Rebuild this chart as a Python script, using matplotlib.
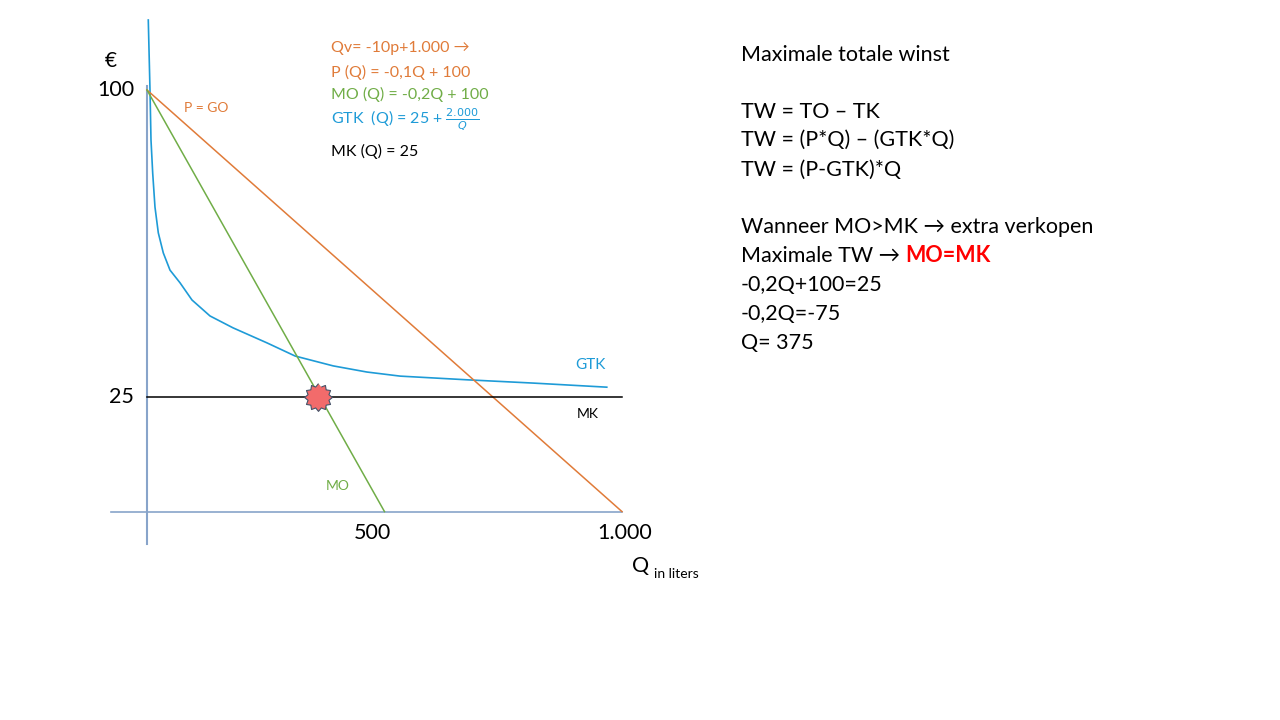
import matplotlib
matplotlib.use("Agg")
import matplotlib.pyplot as plt
import numpy as np

plt.rcParams['font.family'] = ['Lato', 'DejaVu Sans']

# curves (Q in liters, price in euro)
mo_q = [0, 500]
mo_p = [100, -3]
demand_q = [0, 1000]
demand_p = [100, -3]
mk_q = [0, 1000]
mk_p = [25, 25]
gtk_q = [2.7, 6.3, 8.4, 12.0, 16.8, 23.8, 34.3, 48.4, 69.5, 94.7, 132.6, 181,
         253, 312, 392, 463, 533, 674, 813, 968]
gtk_p = [117.1, 100.0, 87.8, 79.7, 71.4, 65.1, 60.2, 56.0, 52.9, 48.7, 44.8, 41.9,
         38.2, 35.0, 32.6, 31.1, 30.1, 29.2, 28.4, 27.4]
optimum_q = [360]
optimum_p = [25]

axis_q = [-76, 1000]
axis_level = -3
yaxis_p = [-11, 101]

tick_q = [500, 1000]
tick_q_labels = ['500', '1.000']
tick_p = [100, 25]
tick_p_labels = ['100', '25']

equations = [
    ('Qv= -10p+1.000 →', '#E07B39'),
    ('P (Q) = -0,1Q + 100', '#E07B39'),
    ('MO (Q) = -0,2Q + 100', '#70AD47'),
    (r'GTK  (Q) = 25 + $\frac{2.000}{Q}$', '#1E9BD7'),
    ('MK (Q) = 25', 'black'),
]
eq_y = [48, 72, 94, 120, 151]

notes = ['Maximale totale winst', 'TW = TO – TK', 'TW = (P*Q) – (GTK*Q)',
         'TW = (P-GTK)*Q', 'Wanneer MO>MK → extra verkopen', 'Maximale TW → ',
         '-0,2Q+100=25', '-0,2Q=-75', 'Q= 375']
notes_y = [55, 112, 140, 170, 227, 256, 285, 314, 343]

ORANGE = '#E07B39'
GREEN = '#70AD47'
BLUE = '#1E9BD7'
AXIS = '#88A4CA'

fig = plt.figure(figsize=(12.8, 7.2), dpi=100)
ax = fig.add_axes([0, 0, 1, 1])
ax.axis('off')

# pixel anchors of the drawing: Q=0 -> 147px, Q=1000 -> 622px, P=100 -> 90px, P=25 -> 397px
px_q = (622 - 147) / 1000
px_p = (397 - 90) / 75
ax.set_xlim(-147 / px_q, (1280 - 147) / px_q)
ax.set_ylim(25 - (720 - 397) / px_p, 25 + 397 / px_p)

# axes
ax.plot(axis_q, [axis_level, axis_level], color=AXIS, lw=1.2)
ax.plot([0, 0], yaxis_p, color=AXIS, lw=1.5)

ax.plot(gtk_q, gtk_p, color=BLUE, lw=1.2, solid_joinstyle='round')
ax.plot(demand_q, demand_p, color=ORANGE, lw=1.1)
ax.plot(mo_q, mo_p, color=GREEN, lw=1.1)
ax.plot(mk_q, mk_p, color='black', lw=1.1)

# 12-point star marker
ang = np.linspace(0, 2 * np.pi, 25)[:-1] + np.pi / 2
rad = np.where(np.arange(24) % 2 == 0, 1.0, 0.78)
star = np.column_stack([rad * np.cos(ang), rad * np.sin(ang)])
ax.plot(optimum_q, optimum_p, marker=star, ms=20, color='#F26B6B',
        markeredgecolor='#44546A', markeredgewidth=0.8, zorder=5)

for q, lab in zip(tick_q, tick_q_labels):
    shift = -9 if q == 500 else 2
    ax.annotate(lab, (q, -8.2), xytext=(shift, 0), textcoords='offset points',
                fontsize=15.5, ha='center', va='center')
for p, lab in zip(tick_p, tick_p_labels):
    ax.text(-27, p, lab, fontsize=15.5, ha='right', va='center')
ax.text(-76, 107.0, '€', fontsize=15, ha='center', va='center')
ax.text(1040, -16.3, 'Q', fontsize=15.5, ha='center', va='center')
ax.text(1067, -18.2, 'in liters', fontsize=10, ha='left', va='center')

ax.text(124, 95.6, 'P = GO', color=ORANGE, fontsize=10, ha='center', va='center')
ax.text(933, 32.8, 'GTK', color=BLUE, fontsize=11, ha='center', va='center')
ax.text(928, 20.8, 'MK', color='black', fontsize=10, ha='center', va='center')
ax.text(402, 3.3, 'MO', color=GREEN, fontsize=10, ha='center', va='center')

for (txt, col), y in zip(equations, eq_y):
    fig.text(331 / 1280, 1 - y / 720, txt, color=col, fontsize=11.5, ha='left', va='center')

for txt, y in zip(notes, notes_y):
    t = fig.text(741 / 1280, 1 - y / 720, txt, fontsize=15.5, ha='left', va='center')
    if txt.startswith('Maximale TW'):
        ax.annotate('MO=MK', xy=(1, 0), xycoords=t, fontsize=15.5, color='#FF0000',
                    fontweight='bold', ha='left', va='bottom')

fig.savefig('out.png', dpi=100, facecolor='white')
